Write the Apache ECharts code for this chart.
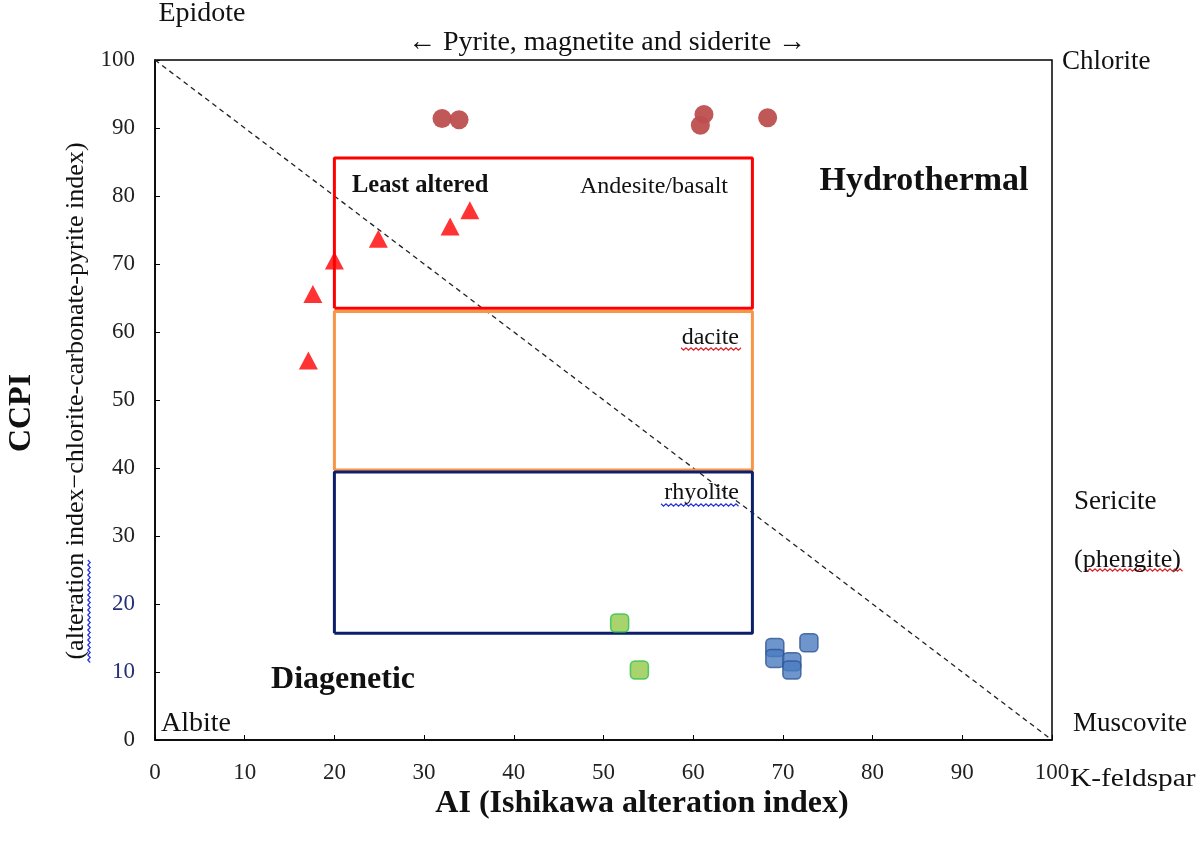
<!DOCTYPE html>
<html>
<head>
<meta charset="utf-8">
<script src="https://cdn.jsdelivr.net/npm/echarts@6/dist/echarts.min.js"></script>
<style>html,body{margin:0;padding:0;background:#fff;}#c{width:1200px;height:843px;}</style>
</head>
<body>
<div id="c"></div>
<script>
// ---- data ----
var xTicks = [0,10,20,30,40,50,60,70,80,90,100];
var yTicks = [0,10,20,30,40,50,60,70,80,90,100];
var circlePts = [[32.0,91.4],[33.9,91.2],[60.8,90.4],[61.2,92.0],[68.3,91.5]];
var trianglePts = [[35.1,77.9],[32.9,75.5],[24.9,73.7],[20.0,70.5],[17.6,65.6],[17.1,55.8]];
var greenSquarePts = [[51.8,17.2],[54.0,10.3]];
var blueSquarePts = [[69.1,13.6],[69.1,12.0],[71.0,11.5],[71.0,10.3],[72.9,14.3]];
var diagonal = [[0,100],[100,0]];
var andesiteBox = [[20,63.5],[66.6,63.5],[66.6,85.6],[20,85.6],[20,63.5]];
var daciteBox = [[20,39.7],[66.6,39.7],[66.6,63.0],[20,63.0],[20,39.7]];
var rhyoliteBox = [[20,15.7],[66.6,15.7],[66.6,39.4],[20,39.4],[20,15.7]];

var FONT = '"Liberation Serif", "DejaVu Serif", serif';
var chart = echarts.init(document.getElementById('c'));

function txt(x, y, s, opts) {
  opts = opts || {};
  return {
    type: 'text', x: x, y: y, rotation: opts.rotation || 0, scaleX: opts.scaleX || 1, z: 100,
    style: {
      text: s, fill: '#111', font: (opts.bold ? 'bold ' : '') + (opts.size || 19) + 'px ' + FONT,
      textAlign: opts.align || 'left', textVerticalAlign: 'middle'
    }
  };
}
// spell-check style wavy underline (decoration only)
function wavy(x0, x1, y, color, vertical) {
  var pts = [], k = 0;
  for (var p = x0; p <= x1; p += 2.5, k++) {
    var off = (k % 2 === 0) ? -1.2 : 1.2;
    pts.push(vertical ? [y + off, p] : [p, y + off]);
  }
  return { type: 'polyline', z: 99, shape: { points: pts }, style: { stroke: color, lineWidth: 1.2, fill: null } };
}
function boxSeries(data, color) {
  return { type: 'line', data: data, symbol: 'none', z: 2, silent: true,
    lineStyle: { color: color, width: 3 } };
}

chart.setOption({
  animation: false,
  backgroundColor: '#fff',
  grid: { left: 155, right: 148, top: 60, bottom: 103, show: true, borderColor: '#000', borderWidth: 1.5 },
  xAxis: {
    type: 'value', min: 0, max: 100, interval: 10,
    axisLine: { show: true, lineStyle: { color: '#000', width: 1.5 } },
    axisTick: { show: true, inside: true, length: 5, lineStyle: { color: '#000' } },
    splitLine: { show: false },
    axisLabel: { color: '#222', fontSize: 23, fontFamily: FONT, margin: 21,
      formatter: function (v) { return xTicks.indexOf(v) >= 0 ? String(v) : ''; } }
  },
  yAxis: {
    type: 'value', min: 0, max: 100, interval: 10,
    axisLine: { show: true, lineStyle: { color: '#000', width: 1.5 } },
    axisTick: { show: true, inside: true, length: 5, lineStyle: { color: '#000' } },
    splitLine: { show: false },
    axisLabel: { fontSize: 23, fontFamily: FONT, margin: 20,
      color: function (v) { return (String(v) === '10' || String(v) === '20') ? '#26307A' : '#222'; },
      formatter: function (v) { return yTicks.indexOf(v) >= 0 ? String(v) : ''; } }
  },
  series: [
    { type: 'line', data: diagonal, symbol: 'none', z: 1, silent: true,
      lineStyle: { color: '#222', width: 1.3, type: [5, 4] } },
    boxSeries(andesiteBox, '#FF0000'),
    boxSeries(daciteBox, '#F79646'),
    boxSeries(rhyoliteBox, '#0D1F6B'),
    { type: 'scatter', data: circlePts, symbol: 'circle', symbolSize: 19, z: 5,
      itemStyle: { color: '#BE4F4F', opacity: 0.95 } },
    { type: 'scatter', data: trianglePts, symbol: 'triangle', symbolSize: [19, 18], z: 5,
      itemStyle: { color: '#FF0000' } },
    { type: 'scatter', data: greenSquarePts, symbol: 'roundRect', symbolSize: 18, z: 5,
      itemStyle: { color: '#92C848', borderColor: '#2CC04A', borderWidth: 1.5 } },
    { type: 'scatter', data: blueSquarePts, symbol: 'roundRect', symbolSize: 18, z: 5,
      itemStyle: { color: '#4A7CC0', borderColor: '#2E5490', borderWidth: 1.5 } }
  ],
  graphic: [
    txt(202, 14, 'Epidote', { size: 28, align: 'center' }),
    txt(607, 43, '\u2190 Pyrite, magnetite and siderite \u2192', { size: 28, align: 'center' }),
    txt(1062, 62, 'Chlorite', { size: 27 }),
    txt(1074, 502, 'Sericite', { size: 27 }),
    txt(1074, 560, '(phengite)', { size: 26 }),
    txt(1073, 724, 'Muscovite', { size: 27 }),
    txt(1070, 779, 'K-feldspar', { size: 26, scaleX: 1.13 }),
    txt(352, 186, 'Least altered', { bold: true, size: 24.5 }),
    txt(580, 187, 'Andesite/basalt', { size: 24 }),
    txt(924, 181, 'Hydrothermal', { bold: true, size: 34, align: 'center' }),
    txt(739, 338, 'dacite', { size: 24, align: 'right' }),
    txt(739, 493, 'rhyolite', { size: 24, align: 'right' }),
    txt(343, 680, 'Diagenetic', { bold: true, size: 32, align: 'center' }),
    txt(161, 724, 'Albite', { size: 28 }),
    txt(642, 804, 'AI (Ishikawa alteration index)', { bold: true, size: 32, align: 'center' }),
    txt(22, 413, 'CCPI', { bold: true, size: 32, align: 'center', rotation: Math.PI / 2 }),
    txt(76, 401, '(alteration index\u2212chlorite-carbonate-pyrite index)', { size: 26, align: 'center', rotation: Math.PI / 2 }),
    wavy(681, 741, 349, '#E0202A'),
    wavy(661, 740, 505, '#2030E0'),
    wavy(1085, 1183, 570, '#E0202A'),
    wavy(560, 663, 89, '#2030E0', true)
  ]
});
</script>
</body>
</html>
